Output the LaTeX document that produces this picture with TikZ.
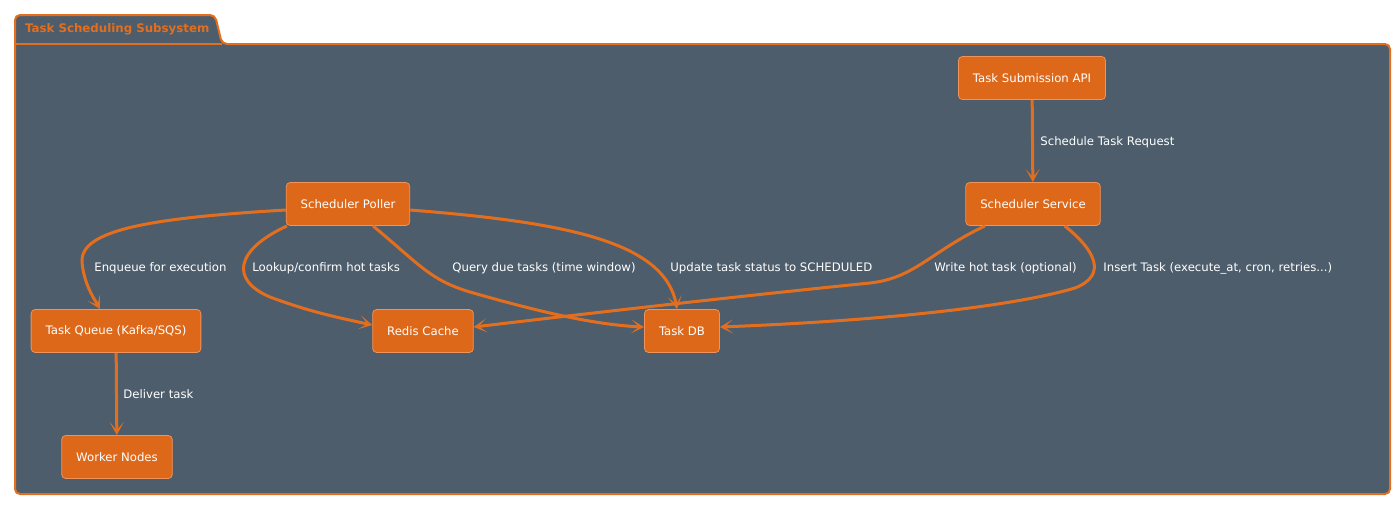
\documentclass[tikz,border=0pt]{standalone}
\usepackage{fontspec}
\setmainfont{DejaVu Sans}
\usetikzlibrary{arrows.meta}
\definecolor{slate}{HTML}{4D5D6C}
\definecolor{rust}{HTML}{DE6819}
\definecolor{rustline}{HTML}{E36F1E}
\definecolor{rustedge}{HTML}{F0925A}
\begin{document}
\begin{tikzpicture}[
x=0.5pt,y=-0.5pt,
every node/.style={font=\fontsize{5.85}{7}\selectfont},
comp/.style={draw=rustedge,line width=0.4pt,fill=rust,text=white,rounded corners=2pt,inner xsep=7.25pt,minimum height=21.5pt},
flow/.style={draw=rustline,line width=1.5pt,-{Stealth[length=6.5pt,width=7pt,inset=4pt]}},
lbl/.style={anchor=west,text=white,inner sep=0pt}
]
\useasboundingbox (0,0) rectangle (1400,505);
% package frame
\draw[rustline,fill=slate,line width=1pt,rounded corners=2.5pt]
  (15,494) -- (15,15) -- (215,15) -- (222,44) -- (1390,44) -- (1390,494) -- cycle;
\draw[rustline,line width=1pt] (15,44) -- (222,44);
\node[anchor=west,text=rustline,font=\fontsize{5.9}{7}\selectfont\bfseries] (title) at (18,29) {Task Scheduling Subsystem};
% components
\node[comp] (api) at (1032,78) {Task Submission API};
\node[comp] (service) at (1033,204) {Scheduler Service};
\node[comp] (poller) at (348,204) {Scheduler Poller};
\node[comp] (queue) at (116,331) {Task Queue (Kafka/SQS)};
\node[comp] (redis) at (423,331) {Redis Cache};
\node[comp] (taskdb) at (682,331) {Task DB};
\node[comp] (worker) at (117,457) {Worker Nodes};
% flows
\draw[flow] (api) -- (service);
\node[lbl] (l1) at (1040,142) {Schedule Task Request};
\draw[flow] ([xshift=-18pt]service.south east) .. controls (1095,250) and (1108,275) .. (1075,288)
  .. controls (1000,310) and (850,322) .. ([yshift=2pt]taskdb.east);
\node[lbl] (l2) at (1103,268) {Insert Task (execute\_at, cron, retries...)};
\draw[flow] ([xshift=-24pt]service.south) .. controls (930,252) and (915,278) .. (870,283)
  .. controls (750,295) and (600,312) .. ([yshift=2pt]redis.east);
\node[lbl] (l3) at (934,268) {Write hot task (optional)};
\draw[flow] ([yshift=-3pt]poller.east) .. controls (560,222) and (665,240) .. ([xshift=-2.5pt]taskdb.north);
\node[lbl] (l4) at (670,268) {Update task status to SCHEDULED};
\draw[flow] ([xshift=12.5pt]poller.south) .. controls (420,265) and (430,280) .. (470,292)
  .. controls (550,315) and (600,325) .. ([yshift=2pt]taskdb.west);
\node[lbl] (l5) at (452,268) {Query due tasks (time window)};
\draw[flow] ([xshift=-30.5pt]poller.south) .. controls (235,250) and (230,280) .. (270,297)
  .. controls (310,312) and (340,318) .. ([yshift=3pt]redis.west);
\node[lbl] (l6) at (252,268) {Lookup/confirm hot tasks};
\draw[flow] ([yshift=-3pt]poller.west) .. controls (150,218) and (80,230) .. (82,262)
  .. controls (84,285) and (95,300) .. ([xshift=-8pt]queue.north);
\node[lbl] (l7) at (94,268) {Enqueue for execution};
\draw[flow] (queue) -- (worker);
\node[lbl] (l8) at (123,394) {Deliver task};
\end{tikzpicture}
\end{document}
